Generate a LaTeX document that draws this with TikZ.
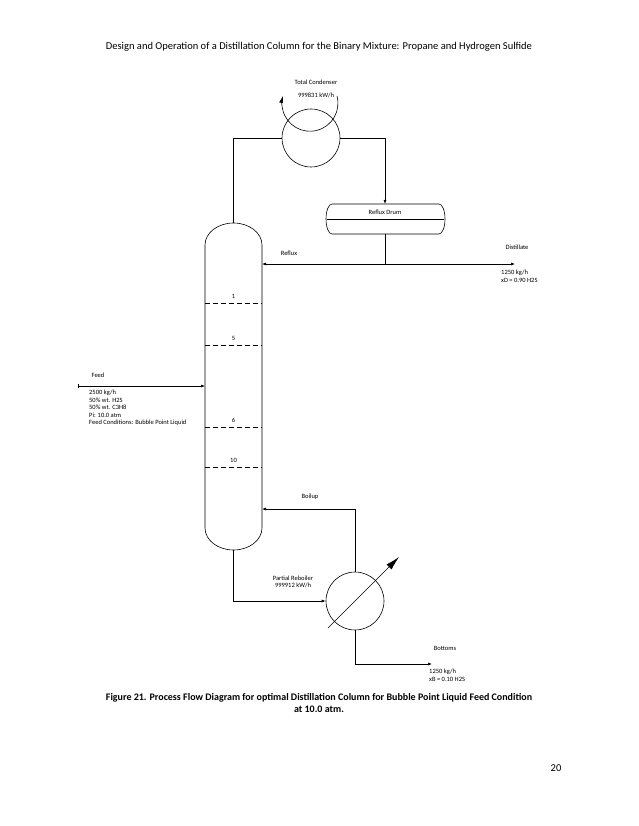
\documentclass[tikz,border=0pt]{standalone}
\usepackage{fontspec}
\setmainfont{Carlito}
\usetikzlibrary{arrows.meta}
\begin{document}
\begin{tikzpicture}[x=1pt,y=-1pt,
  ln/.style={draw=black,line width=0.6pt},
  ar/.style={ln,-{Latex[length=4pt,width=3pt]}},
  sm/.style={font=\fontsize{6.5}{7.5}\selectfont,inner sep=0pt},
  smb/.style={sm,align=left,anchor=north west}]
\useasboundingbox (0,0) rectangle (638,826);
\node[font=\fontsize{10.5}{12}\selectfont] (hdr) at (319,47) {Design and Operation of a Distillation Column for the Binary Mixture: Propane and Hydrogen Sulfide};
% column
\draw[ln] (205,245) arc[start angle=180,end angle=360,x radius=28.5,y radius=22] -- (262,528) arc[start angle=0,end angle=180,x radius=28.5,y radius=22] -- cycle;
\coordinate (coltop) at (233.5,223);
\coordinate (colbot) at (233.5,550);
% trays
\foreach \y/\t in {303/1,345/5,427/6,467/10}{
  \draw[ln,dashed,dash pattern=on 5pt off 3pt] (205,\y) -- (262,\y);
  \node[sm] at (233.5,\y-7) {\t};}
% condenser
\node[circle,ln,minimum size=58pt,inner sep=0pt] (cond) at (311,138) {};
\draw[ln,-{Latex[length=7pt,width=4pt]}] (337,96) arc[start angle=-15,end angle=195,radius=28];
\node[sm] (tc) at (316,82) {Total Condenser};
\node[sm] (tcq) at (316,95) {999831 kW/h};
\draw[ln] (cond.west) -- (233.5,138) -- (coltop);
% reflux drum
\draw[ln] (332,204) -- (439,204) arc[start angle=270,end angle=450,x radius=6,y radius=15] -- (332,234) arc[start angle=90,end angle=270,x radius=6,y radius=15] -- cycle;
\draw[ln] (327,219) -- (444,219);
\coordinate (drumtop) at (385,204);
\coordinate (drumbot) at (385,234);
\node[sm] (rd) at (385,212) {Reflux Drum};
\draw[ar] (cond.east) -- (385,138) -- (drumtop);
\coordinate (split) at (385,264);
\coordinate (dist) at (515,264);
\coordinate (refin) at (262,264);
\draw[ln] (drumbot) -- (split);
\draw[ar] (split) -- (dist);
\draw[ar] (split) -- (refin);
\node[sm] (rl) at (289,253) {Reflux};
\node[sm] (dl) at (517,247) {Distillate};
\node[smb] (dd) at (501,270) {1250 kg/h\\xD = 0.90 H2S};
% feed
\coordinate (feedin) at (78,386);
\draw[ar] (feedin) -- (205,386);
\draw[ln] (78,384) -- (78,388);
\node[sm] (fl) at (98,375) {Feed};
\node[smb] (fd) at (89,390) {2500 kg/h\\50\% wt. H2S\\50\% wt. C3H8\\Pi: 10.0 atm\\Feed Conditions: Bubble Point Liquid};
% reboiler
\node[circle,ln,minimum size=58pt,inner sep=0pt] (reb) at (355,601) {};
\coordinate (tipA) at (328,628);
\coordinate (tipB) at (399,557);
\draw[ln,-{Latex[length=14pt,width=7pt]}] (tipA) -- (tipB);
\node[sm,align=center] (rbl) at (293,582) {Partial Reboiler\\999912 kW/h};
\draw[ar] (colbot) -- (233.5,601) -- (reb.west);
\draw[ar] (reb.north) -- (355,509) -- (262,509);
\node[sm] (bl) at (310,497) {Boilup};
\coordinate (bot) at (432,664);
\draw[ar] (reb.south) -- (355,664) -- (bot);
\node[sm] (btl) at (445,648) {Bottoms};
\node[smb] (bd) at (429,669) {1250 kg/h\\xB = 0.10 H2S};
% caption
\node[font=\bfseries\fontsize{10}{12}\selectfont,align=center] (cap) at (319,703) {Figure 21. Process Flow Diagram for optimal Distillation Column for Bubble Point Liquid Feed Condition\\at 10.0 atm.};
\node[font=\fontsize{10.5}{12}\selectfont] (pg) at (556,768) {20};
\end{tikzpicture}
\end{document}
